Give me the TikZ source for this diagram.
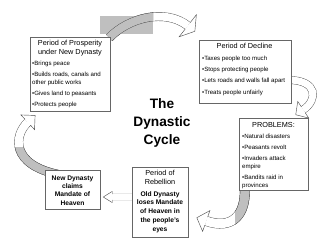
\documentclass[tikz,border=0pt]{standalone}
\usepackage{fontspec}
\setmainfont{Liberation Sans}
\usetikzlibrary{calc, backgrounds}

% hollow block arrow head: base, point behind base, half width, length, shaft half width
\newcommand{\blkhead}[5]{%
  \fill[white] ($(#1)!#3!90:(#2)$) -- ($(#1)!-#4!(#2)$) -- ($(#1)!#3!-90:(#2)$) -- cycle;
  \draw[black!70, line width=0.6pt, line join=miter] ($(#1)!#5!90:(#2)$) -- ($(#1)!#3!90:(#2)$) -- ($(#1)!-#4!(#2)$) -- ($(#1)!#3!-90:(#2)$) -- ($(#1)!#5!-90:(#2)$);}

\begin{document}
\begin{tikzpicture}[x=0.05cm, y=-0.05cm,
  box/.style={draw=black!60, line width=0.7pt, fill=white, inner sep=0pt},
  hdr/.style={font=\fontsize{10.4}{12.8}\selectfont, align=center, inner sep=0pt},
  bul/.style={font=\fontsize{8.7}{11.4}\selectfont, align=left, inner sep=0pt, anchor=north west},
  bld/.style={font=\fontsize{9.5}{12.5}\selectfont\bfseries, align=center, inner sep=0pt},
  ttl/.style={font=\fontsize{19.5}{25}\selectfont\bfseries, align=center, inner sep=0pt},
  band/.style={draw=black!70, line width=0.6pt, double=white, double distance=#1}
]
\useasboundingbox (0,0) rectangle (320,240);

% Boxes
\node[box, minimum width=4cm, minimum height=3.7cm] (prosp) at (70,74) {};
\node[hdr] (prosph) at (70,48) {Period of Prosperity\\under New Dynasty};
\node[bul] (prospl) at (32,60.8) {•Brings peace\\[5pt]•Builds roads, canals and\\other public works\\[4.3pt]•Gives land to peasants\\[4.3pt]•Protects people};

\node[box, minimum width=4.6cm, minimum height=3.15cm] (decl) at (245,71.5) {};
\node[hdr] (declh) at (244.5,46) {Period of Decline};
\node[bul] (decll) at (202,55.8) {•Taxes people too much\\[4.6pt]•Stops protecting people\\[4.6pt]•Lets roads and walls fall apart\\[4.6pt]•Treats people unfairly};

\node[box, minimum width=3.45cm, minimum height=3.6cm] (probl) at (273.5,154) {};
\node[hdr] (problh) at (273.5,125) {PROBLEMS:};
\node[bul] (probll) at (242,133.8) {•Natural disasters\\[4.2pt]•Peasants revolt\\[4.2pt]•Invaders attack\\empire\\[4.2pt]•Bandits raid in\\provinces};

\node[box, minimum width=2.8cm, minimum height=3.5cm] (rebel) at (160,202) {};
\node[hdr] (rebelh) at (160,177.5) {Period of\\Rebellion};
\node[bld] (rebelt) at (160,212) {Old Dynasty\\loses Mandate\\of Heaven in\\the people's\\eyes};

\node[box, minimum width=2.75cm, minimum height=1.95cm] (newdyn) at (72.5,189.5) {};
\node[bld, font=\fontsize{9.5}{11.9}\selectfont\bfseries] (newdynt) at (72.5,190.5) {New Dynasty\\claims\\Mandate of\\Heaven};

% Title
\node[ttl] (title) at (162,123) {The\\Dynastic\\Cycle};

% Arrow end points
\coordinate (tops) at ($(prosp.north east)+(-1,1)$);
\coordinate (topc) at (165,8);
\coordinate (tope) at ($(decl.north west)+(-11,-14)$);
\coordinate (rgts) at ($(decl.east)+(-3,8.5)$);
\coordinate (rgtc) at (318,100);
\coordinate (rgte) at ($(probl.north east)+(-5,-8)$);
\coordinate (bots) at ($(probl.south west)+(6,-2)$);
\coordinate (botc) at (232,230);
\coordinate (bote) at ($(rebel.east)+(18,19)$);
\coordinate (mids) at ($(rebel.west)+(2,-5)$);
\coordinate (mide) at ($(newdyn.east)+(12,7.5)$);
\coordinate (lfts) at ($(newdyn.north west)+(15,5)$);
\coordinate (lftc) at (14,135);
\coordinate (lfte) at ($(prosp.south west)+(-2,11)$);

% Arrows behind the boxes
\begin{scope}[on background layer]
  % prosperity -> decline
  \draw[band=0.4cm] (tops) .. controls (128,18) and (topc) .. (tope);
  \fill[black!25] (100,16) rectangle (153,34);
  \begin{scope}
    \clip (100,0) rectangle (153,40);
    \draw[band=0.4cm, double=black!25] (tops) .. controls (128,18) and (topc) .. (tope);
  \end{scope}
  \blkhead{tope}{topc}{0.7cm}{0.45cm}{0.2cm}
  % decline -> problems
  \draw[band=0.35cm] (rgts) .. controls (318,80) and (rgtc) .. (rgte);
  \blkhead{rgte}{rgtc}{0.5cm}{0.45cm}{0.175cm}
  % problems -> rebellion
  \draw[band=0.45cm] (bots) .. controls (246,215) and (botc) .. (bote);
  \begin{scope}
    \clip (235,180) rectangle (270,240);
    \draw[band=0.45cm, double=black!25] (bots) .. controls (246,215) and (botc) .. (bote);
  \end{scope}
  \blkhead{bote}{botc}{0.55cm}{0.5cm}{0.225cm}
  % rebellion -> new dynasty
  \draw[band=0.28cm] (mids) -- (mide);
  \blkhead{mide}{mids}{0.28cm}{0.45cm}{0.14cm}
  % new dynasty -> prosperity
  \draw[band=0.4cm] (lfts) .. controls (10,165) and (lftc) .. (lfte);
  \begin{scope}
    \clip (0,147) rectangle (80,185);
    \draw[band=0.4cm, double=black!25] (lfts) .. controls (10,165) and (lftc) .. (lfte);
  \end{scope}
  \blkhead{lfte}{lftc}{0.5cm}{0.5cm}{0.2cm}
\end{scope}
\end{tikzpicture}
\end{document}
